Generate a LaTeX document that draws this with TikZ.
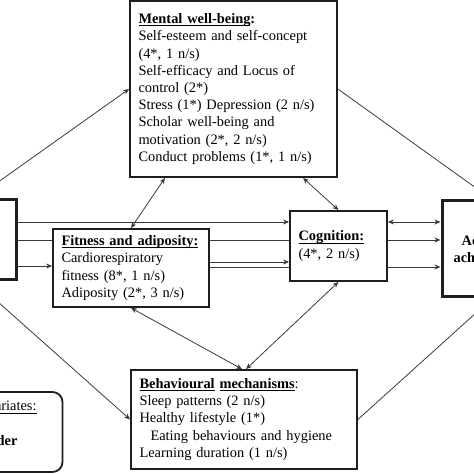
\documentclass[tikz,border=0pt]{standalone}
\usepackage{fontspec}
\setmainfont{Liberation Serif}
\usepackage{amsmath}
\usepackage{xcolor}
\usepackage{tikz}
\usetikzlibrary{arrows.meta,positioning,calc}
\definecolor{boxline}{HTML}{1E1E1E}
\definecolor{linkgray}{HTML}{3A3A3A}
\newcommand{\undl}[1]{\underline{\smash[b]{#1}}}
\tikzset{
  factorbox/.style={rectangle,draw=boxline,line width=1.8pt,fill=white,align=left,inner xsep=8.5pt,font=\fontsize{14.4pt}{17.2pt}\selectfont},
  endbox/.style={rectangle,draw=boxline,line width=3pt,fill=white,minimum width=100pt,minimum height=96pt,align=center,font=\fontsize{14.4pt}{17.2pt}\selectfont\bfseries},
  covbox/.style={rectangle,rounded corners=10pt,draw=boxline,line width=1.8pt,fill=white,align=left,inner xsep=8.5pt,font=\fontsize{14.4pt}{17.2pt}\selectfont},
  arrow/.style={-{Stealth[length=6pt,width=5pt]},line width=0.8pt,draw=linkgray},
  biarrow/.style={{Stealth[length=6pt,width=5pt]}-{Stealth[length=6pt,width=5pt]},line width=0.8pt,draw=linkgray},
  line/.style={line width=0.8pt,draw=linkgray}
}

\begin{document}
\begin{tikzpicture}[x=1pt,y=1pt]
  \useasboundingbox (0,0) rectangle (474,474);
  \clip (0,0) rectangle (474,474);
  \node[endbox,minimum width=82pt,minimum height=80pt] (activity) at (-25,234) {};
  \node[endbox] (academic) at (492,225) {Academic\\achievement};
  \node[factorbox,text width=190pt,minimum height=176pt] (mental) at (233.5,385) {\undl{\textbf{Mental well-being}}\textbf{:}\\Self-esteem and self-concept\\(4*, 1 n/s)\\Self-efficacy and Locus of\\control (2*)\\Stress (1*) Depression (2 n/s)\\Scholar well-being and\\motivation (2*, 2 n/s)\\Conduct problems (1*, 1 n/s)};
  \node[factorbox,text width=139pt,minimum height=78pt] (fitness) at (131,206) {\undl{\textbf{Fitness and adiposity:}}\\Cardiorespiratory\\fitness (8*, 1 n/s)\\Adiposity (2*, 3 n/s)};
  \node[factorbox,text width=80pt,minimum height=70pt] (cognition) at (338.5,228) {\undl{\textbf{Cognition:}}\\(4*, 2 n/s)};
  \node[factorbox,text width=209pt,minimum height=99pt] (behav) at (244,54.5) {\undl{\textbf{Behavioural}} \undl{\textbf{mechanisms}}:\\Sleep patterns (2 n/s)\\Healthy lifestyle (1*)\\\hspace*{11pt}Eating behaviours and hygiene\\Learning duration (1 n/s)};
  \node[covbox,text width=83pt,minimum height=80pt] (covariates) at (12.5,42) {\undl{Covariates:}\\[17.2pt]\textbf{Gender}\\\mbox{}};

  % paths round the mediators
  \draw[arrow] (activity.north) -- (mental.west);
  \draw[arrow] (mental.east) -- (academic.north);
  \draw[arrow] (activity.south) -- (behav.west);
  \draw[arrow] (behav.east) -- (academic.south);
  % links between mediators
  \draw[biarrow] (fitness.north) -- ([xshift=-68.5pt]mental.south);
  \draw[biarrow] (cognition.north) -- ([xshift=69.5pt]mental.south);
  \draw[biarrow] (fitness.south) -- ([xshift=-2pt]behav.north);
  \draw[biarrow] (cognition.south) -- ([xshift=2pt]behav.north);
  % horizontal paths
  \coordinate (actHi) at ([yshift=18pt]activity.east);
  \coordinate (actLo) at ([yshift=-26pt]activity.east);
  \coordinate (cogHi) at ([yshift=24pt]cognition.east);
  \coordinate (fitHi) at ([yshift=6pt]fitness.east);
  \coordinate (fitLo) at ([yshift=1pt]fitness.east);
  \draw[arrow] (actHi) -- (actHi -| cognition.west);
  \draw[biarrow] (cogHi) -- (cogHi -| academic.west);
  \draw[line] (activity.east) -- (activity.east -| fitness.west)
    (activity.east -| fitness.east) -- (activity.east -| cognition.west);
  \draw[arrow] (activity.east -| cognition.east) -- (activity.east -| academic.west);
  \draw[arrow] (actLo) -- (actLo -| fitness.west);
  \draw[arrow] (fitHi) -- (fitHi -| cognition.west);
  \draw[line] (fitLo) -- (fitLo -| cognition.west);
  \draw[arrow] (fitLo -| cognition.east) -- (fitLo -| academic.west);
\end{tikzpicture}
\end{document}
